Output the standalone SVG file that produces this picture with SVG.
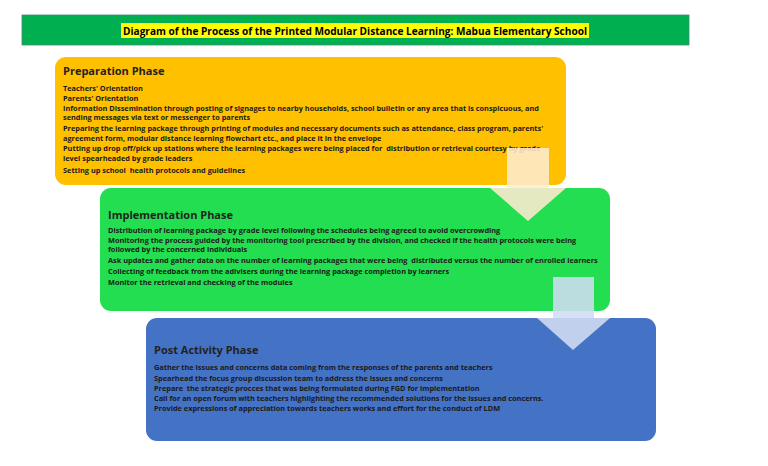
<svg xmlns="http://www.w3.org/2000/svg" width="768" height="466" viewBox="0 0 768 466">
<style>
.t{font-family:"Open Sans","Liberation Sans",sans-serif;font-size:7.35px;font-weight:700;fill:#1a1a1a;white-space:pre}
.h{font-family:"Open Sans","Liberation Sans",sans-serif;font-size:11px;font-weight:700;fill:#222}
.ttl{font-family:"Open Sans","Liberation Sans",sans-serif;font-size:10.5px;font-weight:700;fill:#000}
.a1{fill:#FFEAD0;opacity:0.88}
.a2{fill:#D2DDF2;opacity:0.88}
</style>
<rect width="768" height="466" fill="#fff"/>
<g id="title">
<rect x="22" y="15" width="667" height="30" fill="#00B050" stroke="#3F8C72" stroke-width="0.8"/>
<rect x="121" y="23" width="468" height="15" fill="#FFFF00"/>
<text class="ttl" x="355" y="34.5" text-anchor="middle" textLength="464" lengthAdjust="spacingAndGlyphs">Diagram of the Process of the Printed Modular Distance Learning: Mabua Elementary School</text>
</g>
<g id="preparation">
<rect x="55" y="57" width="511" height="128" rx="11" fill="#FFC000"/>
<text class="h" x="63" y="75">Preparation Phase</text>
<text class="t" x="63" y="90.5">Teachers' Orientation</text>
<text class="t" x="63" y="100.5">Parents' Orientation</text>
<text class="t" x="63" y="110.5">Information Dissemination through posting of signages to nearby households, school bulletin or any area that is conspicuous, and</text>
<text class="t" x="63" y="120">sending messages via text or messenger to parents</text>
<text class="t" x="63" y="131">Preparing the learning package through printing of modules and necessary documents such as attendance, class program, parents'</text>
<text class="t" x="63" y="140.5">agreement form, modular distance learning flowchart etc., and place it in the envelope</text>
<text class="t" x="63" y="151">Putting up drop off/pick up stations where the learning packages were being placed for  distribution or retrieval courtesy by grade</text>
<text class="t" x="63" y="160.5">level spearheaded by grade leaders</text>
<text class="t" x="63" y="172.5">Setting up school  health protocols and guidelines</text>
</g>
<g id="implementation">
<rect x="100" y="188" width="510" height="123" rx="11" fill="#23DE50"/>
<text class="h" x="108" y="219">Implementation Phase</text>
<text class="t" x="108" y="233">Distribution of learning package by grade level following the schedules being agreed to avoid overcrowding</text>
<text class="t" x="108" y="242.5">Monitoring the process guided by the monitoring tool prescribed by the division, and checked if the health protocols were being</text>
<text class="t" x="108" y="252">followed by the concerned individuals</text>
<text class="t" x="108" y="263">Ask updates and gather data on the number of learning packages that were being  distributed versus the number of enrolled learners</text>
<text class="t" x="108" y="273.5">Collecting of feedback from the adivisers during the learning package completion by learners</text>
<text class="t" x="108" y="284.5">Monitor the retrieval and checking of the modules</text>
</g>
<g id="post-activity">
<rect x="146" y="318" width="510" height="123" rx="11" fill="#4472C4"/>
<text class="h" x="154" y="353.5">Post Activity Phase</text>
<text class="t" x="154" y="370">Gather the issues and concerns data coming from the responses of the parents and teachers</text>
<text class="t" x="154" y="380.5">Spearhead the focus group discussion team to address the issues and concerns</text>
<text class="t" x="154" y="391">Prepare  the strategic procces that was being formulated during FGD for implementation</text>
<text class="t" x="154" y="401">Call for an open forum with teachers highlighting the recommended solutions for the issues and concerns.</text>
<text class="t" x="154" y="411">Provide expressions of appreciation towards teachers works and effort for the conduct of LDM</text>
</g>
<g id="connectors">
<path class="a1" d="M507,148 H549 V188 H566 L528,221 L490,188 H507 Z"/>
<path class="a2" d="M553,277 H594 V318 H610 L573,350 L537,318 H553 Z"/>
</g>
</svg>
